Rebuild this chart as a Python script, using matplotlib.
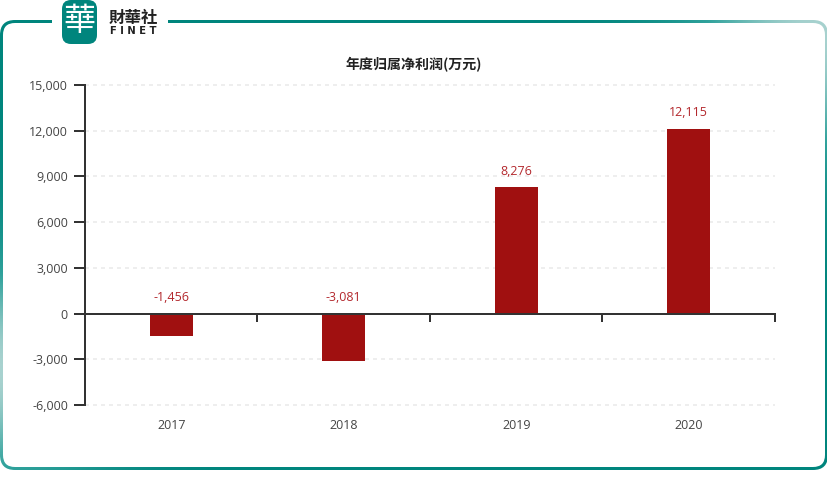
import numpy as np
import matplotlib
matplotlib.use("Agg")
import matplotlib.pyplot as plt
from matplotlib.colors import LinearSegmentedColormap
from matplotlib.patches import FancyBboxPatch, Rectangle
from matplotlib.transforms import ScaledTranslation

years = ["2017", "2018", "2019", "2020"]
profit = [-1456, -3081, 8276, 12115]
y_ticks = [-6000, -3000, 0, 3000, 6000, 9000, 12000, 15000]
title = "年度归属净利润(万元)"

W, H = 828, 490
CJK = ["Noto Sans CJK SC", "DejaVu Sans"]
TC = ["Noto Sans CJK TC", "DejaVu Sans"]
BAR = "#a01010"
LABEL = "#b3282d"
AXIS = "#333333"
TEXT = "#444444"


def px(v):
    # pixel sizes to points at dpi 100
    return v * 0.72


fig = plt.figure(figsize=(W / 100, H / 100), dpi=100, facecolor="white")

# frame and logo live on a background axes in pixel coordinates
bg = fig.add_axes([0, 0, 1, 1], zorder=0)
bg.set_axis_off()

xx, yy = np.meshgrid(np.arange(W), np.arange(H))
d1 = np.hypot(xx - 0, yy - 370) / 115
d2 = np.hypot(xx - 815, yy - 35) / 130
glow = np.maximum(np.exp(-d1 ** 2), np.exp(-d2 ** 2))
cmap = LinearSegmentedColormap.from_list("frame", ["#00857d", "#30a29c", "#a8d2cf"])
outer = FancyBboxPatch((14, 34), W - 28, 422, boxstyle="round,pad=14,rounding_size=15",
                       fc="none", ec="none")
bg.add_patch(outer)
img = bg.imshow(glow, cmap=cmap, vmin=0, vmax=1, extent=(0, W, H, 0), aspect="auto")
img.set_clip_path(outer)
bg.add_patch(FancyBboxPatch((14, 34), W - 28, 422, boxstyle="round,pad=11,rounding_size=12",
                            fc="white", ec="none", zorder=3))
bg.add_patch(Rectangle((52, 15), 116, 12, fc="white", ec="none", zorder=4))

bg.add_patch(FancyBboxPatch((68, 6), 23, 32, boxstyle="round,pad=6,rounding_size=9",
                            fc="#00857d", ec="none", zorder=5))
bg.text(79.5, 21, "華", family=TC, fontsize=px(32), fontweight="medium", color="white",
        ha="center", va="center", zorder=6)
bg.text(133, 17.5, "財華社", family=TC, fontsize=px(16.5), fontweight="bold", color="#222222",
        ha="center", va="center", zorder=6)
bg.text(133, 30.5, "F I N E T", family="DejaVu Sans", fontsize=px(10), fontweight="bold",
        color="#222222", ha="center", va="center", zorder=6)
bg.set_xlim(0, W)
bg.set_ylim(H, 0)

# chart
ax = fig.add_axes([85 / W, 1 - 405 / H, 690 / W, 320 / H], zorder=1)
ax.patch.set_alpha(0)
x = np.arange(len(years))
ax.bar(x, profit, width=0.25, color=BAR, zorder=2)
ax.set_xlim(-0.5, 3.5)
ax.set_ylim(-6000, 15000)

ax.set_yticks(y_ticks)
ax.set_yticklabels([f"{v:,}" for v in y_ticks], family="Open Sans", fontsize=px(12.5), color=TEXT)
up = ScaledTranslation(0, 1.5 / 100, fig.dpi_scale_trans)
for lab in ax.get_yticklabels():
    lab.set_transform(lab.get_transform() + up)
ax.set_xticks(np.arange(len(years) + 1) - 0.5)
ax.set_xticklabels([])
ax.tick_params(axis="y", length=px(11), width=px(2), color=AXIS, pad=px(6))
ax.tick_params(axis="x", length=px(8), width=px(2), color=AXIS)
ax.grid(axis="y", color="#eeeeee", lw=px(2), ls=(0, (2, 2)), zorder=1, clip_on=False)

for side in ["top", "right"]:
    ax.spines[side].set_visible(False)
ax.spines["bottom"].set_position(("data", 0))
for side in ["left", "bottom"]:
    ax.spines[side].set_color(AXIS)
    ax.spines[side].set_linewidth(px(2))
    ax.spines[side].set_zorder(3)

for xi, year, v in zip(x, years, profit):
    ax.annotate(f"{v:,}", (xi, max(v, 0)), xytext=(0, px(16)), textcoords="offset points",
                ha="center", va="center", family="Open Sans", fontsize=px(12.5), color=LABEL)
    ax.annotate(year, (xi, -6000), xytext=(0, -px(20)), textcoords="offset points",
                ha="center", va="center", family="Open Sans", fontsize=px(12.5), color=TEXT)

fig.text(414 / W, 1 - 64.5 / H, title, family=CJK, fontsize=px(14), fontweight="bold",
         color="#222222", ha="center", va="center")

fig.savefig("out.png", dpi=100)
